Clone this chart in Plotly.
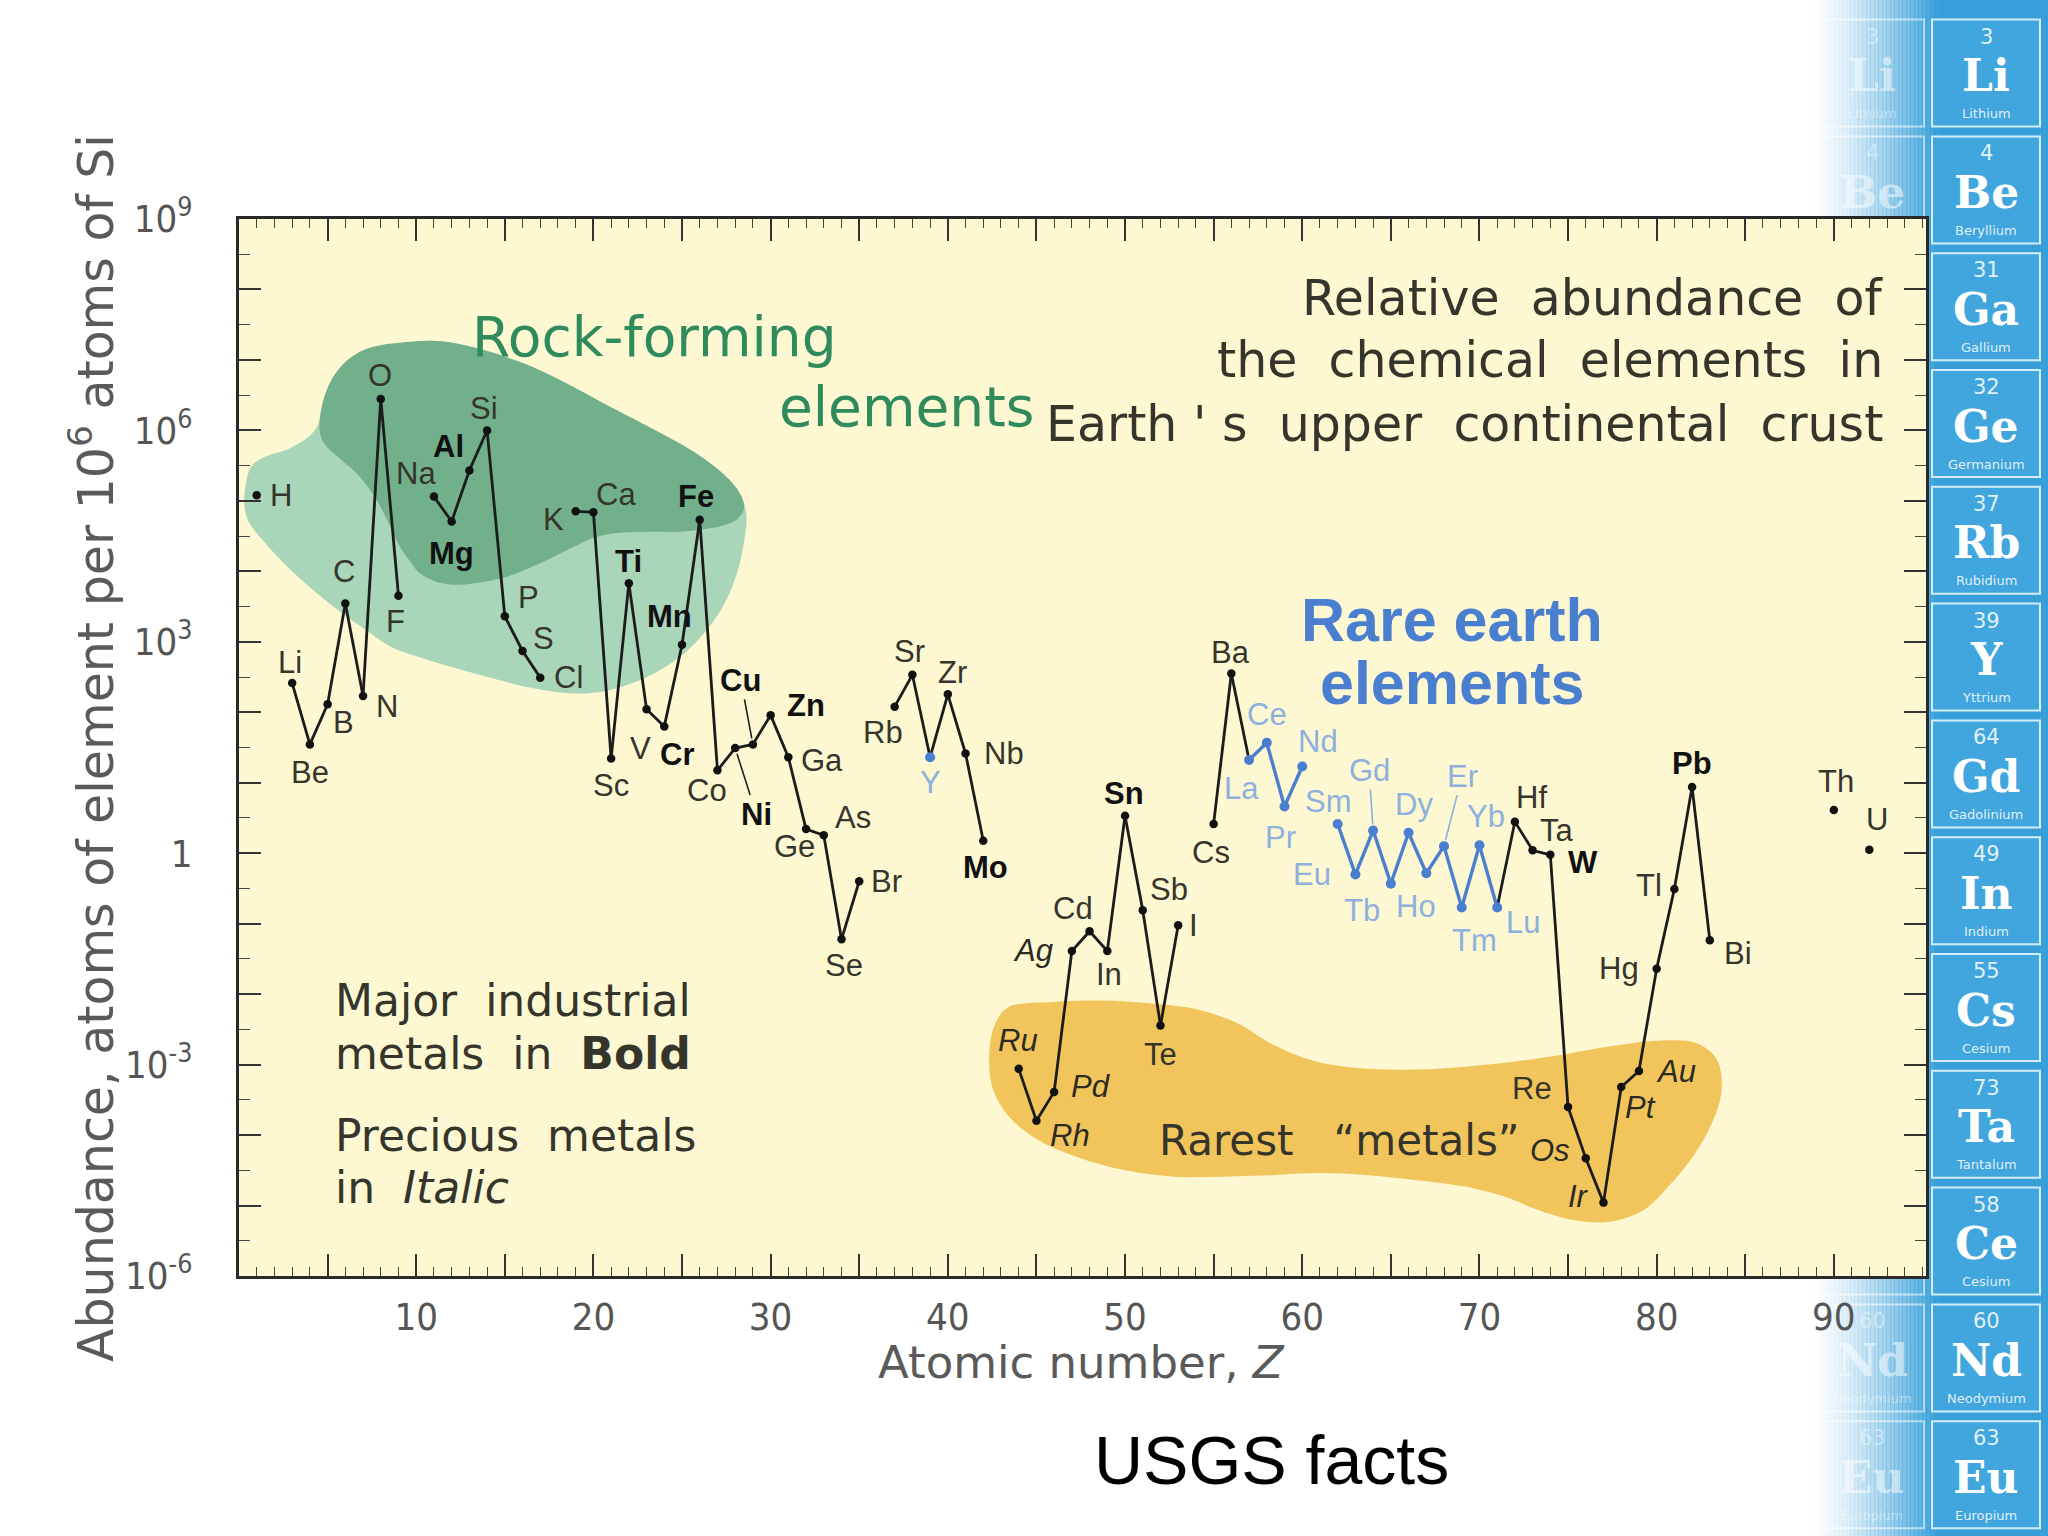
import math
import plotly.graph_objects as go

# ---------------- data ----------------
ATOMIC_NUMBER = [1, 3, 4, 5, 6, 7, 8, 9, 11, 12, 13, 14, 15, 16, 17, 19, 20, 21, 22, 23, 24, 25, 26,
                 27, 28, 29, 30, 31, 32, 33, 34, 35, 37, 38, 39, 40, 41, 42, 44, 45, 46, 47, 48, 49,
                 50, 51, 52, 53, 55, 56, 57, 58, 59, 60, 62, 63, 64, 65, 66, 67, 68, 69, 70, 71, 72,
                 73, 74, 75, 76, 77, 78, 79, 80, 81, 82, 83, 90, 92]
ELEMENT = ["H", "Li", "Be", "B", "C", "N", "O", "F", "Na", "Mg", "Al", "Si", "P", "S", "Cl", "K", "Ca",
           "Sc", "Ti", "V", "Cr", "Mn", "Fe", "Co", "Ni", "Cu", "Zn", "Ga", "Ge", "As", "Se", "Br",
           "Rb", "Sr", "Y", "Zr", "Nb", "Mo", "Ru", "Rh", "Pd", "Ag", "Cd", "In", "Sn", "Sb", "Te",
           "I", "Cs", "Ba", "La", "Ce", "Pr", "Nd", "Sm", "Eu", "Gd", "Tb", "Dy", "Ho", "Er", "Tm",
           "Yb", "Lu", "Hf", "Ta", "W", "Re", "Os", "Ir", "Pt", "Au", "Hg", "Tl", "Pb", "Bi", "Th", "U"]
ABUNDANCE = [1.2e5, 260, 35, 130, 3500, 170, 2.8e6, 4500, 1.15e5, 5.1e4, 2.7e5, 1.0e6, 2300, 740, 310,
             7.1e4, 6.9e4, 22, 6800, 110, 63, 910, 5.4e4, 15, 31, 35, 91, 23, 2.2, 1.8, 0.06, 0.4,
             120, 340, 23, 180, 26, 1.5, 8.7e-4, 1.6e-4, 4.1e-4, 0.041, 0.078, 0.041, 3.4, 0.155,
             0.0036, 0.095, 2.6, 355, 21, 37, 4.6, 17, 2.6, 0.5, 2.1, 0.37, 1.95, 0.52, 1.26, 0.17,
             1.3, 0.17, 2.8, 1.1, 0.95, 2.5e-4, 4.7e-5, 1.1e-5, 4.8e-4, 8.1e-4, 0.023, 0.31, 8.7,
             0.058, 4.1, 1.12]

BOLD_ELEMENTS = ["Mg", "Al", "Ti", "Cr", "Mn", "Fe", "Ni", "Cu", "Zn", "Mo", "Sn", "W", "Pb"]
ITALIC_ELEMENTS = ["Ru", "Rh", "Pd", "Ag", "Os", "Ir", "Pt", "Au"]
REE_ELEMENTS = ["Y", "La", "Ce", "Pr", "Nd", "Sm", "Eu", "Gd", "Tb", "Dy", "Ho", "Er", "Tm", "Yb", "Lu"]
LANTHANIDE_Z = (57, 71)

Y_TICK_EXP = list(range(-6, 10))
Y_LABELED_EXP = [-6, -3, 0, 3, 6, 9]
X_MAJOR_TICKS = list(range(5, 95, 5))
X_LABELED = [10, 20, 30, 40, 50, 60, 70, 80, 90]

TILE_NUMBERS = ["3", "4", "31", "32", "37", "39", "64", "49", "55", "73", "58", "60", "63"]
TILE_SYMBOLS = ["Li", "Be", "Ga", "Ge", "Rb", "Y", "Gd", "In", "Cs", "Ta", "Ce", "Nd", "Eu"]
TILE_NAMES = ["Lithium", "Beryllium", "Gallium", "Germanium", "Rubidium", "Yttrium", "Gadolinium",
              "Indium", "Cesium", "Tantalum", "Cesium", "Neodymium", "Europium"]

# decorative region outlines, (atomic number, log10 abundance)
LIGHT_BLOB_Z = [0.30, 0.70, 1.51, 2.72, 3.72, 4.40, 4.80, 5.70, 7.13, 9.34, 11.55, 15.97, 21.13,
                26.29, 28.13, 28.62, 28.52, 28.11, 27.31, 26.1, 24.68, 22.67, 20.65, 18.64, 16.62,
                14.61, 12.59, 10.58, 8.56, 7.15, 5.54, 3.93, 2.52, 1.31, 0.50]
LIGHT_BLOB_LOG = [5.02, 5.49, 5.63, 5.73, 5.87, 6.05, 6.45, 6.88, 7.13, 7.24, 7.26, 6.96, 6.31,
                  5.59, 5.16, 4.83, 4.45, 3.98, 3.50, 3.08, 2.75, 2.46, 2.30, 2.27, 2.34, 2.46,
                  2.60, 2.75, 2.93, 3.17, 3.46, 3.79, 4.12, 4.45, 4.73]
DARK_BLOB_Z = [4.55, 4.91, 5.80, 7.13, 9.34, 11.55, 15.97, 21.13, 26.29, 28.13, 28.50, 28.11, 27.31,
               26.3, 24.89, 23.27, 21.66, 20.05, 18.84, 17.63, 16.42, 15.21, 14.0, 12.39, 11.18,
               10.17, 9.57, 8.97, 8.36, 7.55, 6.60, 5.60, 4.85]
DARK_BLOB_LOG = [6.00, 6.55, 6.92, 7.15, 7.25, 7.26, 6.96, 6.31, 5.59, 5.16, 4.90, 4.74, 4.65, 4.60,
                 4.56, 4.56, 4.55, 4.48, 4.34, 4.19, 4.05, 3.93, 3.86, 3.81, 3.85, 3.98, 4.17, 4.40,
                 4.73, 5.10, 5.40, 5.62, 5.80]
ORANGE_BLOB_Z = [42.37, 42.77, 43.46, 45.92, 48.66, 51.39, 54.13, 56.32, 58.23, 60.42, 63.15, 66.44,
                 69.17, 71.91, 74.64, 77.38, 80.11, 82.30, 83.40, 83.67, 83.12, 82.03, 80.66, 79.29,
                 77.38, 75.19, 73.27, 71.36, 69.17, 66.44, 63.70, 60.97, 58.23, 55.50, 52.76, 50.02,
                 47.29, 45.10, 43.46, 42.50]
ORANGE_BLOB_LOG = [-2.74, -2.37, -2.18, -2.11, -2.09, -2.13, -2.22, -2.41, -2.70, -2.93, -3.05, -3.07,
                   -3.03, -2.96, -2.86, -2.74, -2.66, -2.70, -2.93, -3.36, -3.83, -4.31, -4.73, -5.06,
                   -5.23, -5.20, -5.06, -4.87, -4.73, -4.64, -4.57, -4.54, -4.57, -4.59, -4.59, -4.50,
                   -4.31, -4.07, -3.74, -3.31]

# ---------------- layout helpers (pixels of the 2048x1536 page) ----------------
FIG_W, FIG_H = 2048, 1536
PL, PR, PT, PB = 239, 1926, 219, 1276


def px(X):
    return (X - PL) / (PR - PL)


def py(Y):
    return (PB - Y) / (PB - PT)


# label offsets (dx right, dy down) in pixels
LABEL_OFFSET = {
    "H": (24, 0), "Li": (-2, -21), "Be": (0, 28), "B": (16, 18), "C": (-1, -32), "N": (24, 10),
    "O": (-1, -23), "F": (-3, 26), "Na": (-18, -23), "Mg": (0, 32), "Al": (-21, -24), "Si": (-3, -22),
    "P": (24, -19), "S": (21, -13), "Cl": (28, 0), "K": (-22, 8), "Ca": (23, -18), "Sc": (0, 27),
    "Ti": (0, -22), "V": (-6, 39), "Cr": (13, 28), "Mn": (-13, -28), "Fe": (-4, -23), "Co": (-10, 20),
    "Zn": (35, -10), "Ga": (34, 3), "Ge": (-12, 17), "As": (29, -18), "Se": (2, 26), "Br": (27, 0),
    "Rb": (-12, 26), "Sr": (-3, -23), "Y": (0, 25), "Zr": (5, -22), "Nb": (38, 0), "Mo": (2, 27),
    "Ru": (-1, -28), "Rh": (34, 15), "Pd": (37, -5), "Ag": (-39, 0), "Cd": (-17, -23), "In": (2, 24),
    "Sn": (-1, -22), "Sb": (26, -21), "Te": (0, 29), "I": (15, 0), "Cs": (-3, 29), "Ba": (-1, -21),
    "La": (-8, 28), "Ce": (0, -28), "Pr": (-4, 31), "Nd": (16, -25), "Sm": (-9, -22), "Eu": (-43, 0),
    "Tb": (-29, 27), "Dy": (5, -28), "Ho": (-10, 33), "Tm": (13, 33), "Yb": (7, -29), "Lu": (26, 15),
    "Hf": (17, -24), "Ta": (24, -20), "W": (33, 8), "Re": (-36, -19), "Os": (-36, -8),
    "Ir": (-25, -6), "Pt": (19, 20), "Au": (37, 0), "Hg": (-38, 0), "Tl": (-25, -4), "Pb": (0, -24),
    "Bi": (28, 13), "Th": (2, -29), "U": (8, -30),
}
LEADER_OFFSET = {"Ni": (21, 66), "Cu": (-12, -64), "Gd": (-4, -60), "Er": (18, -70)}

SANS = "DejaVu Sans, Liberation Sans, Arial, sans-serif"
ARIAL = "Liberation Sans, Arial, Helvetica, sans-serif"
NARROW = "Liberation Sans Narrow, DejaVu Sans Condensed, Arial Narrow, sans-serif"
TEXT_COL = "#35352b"
BLUE = "#4a7fcf"
LIGHT_BLUE = "#8db0dd"

fig = go.Figure()

# ---------------- regions ----------------
for zs, ls, col in [(LIGHT_BLOB_Z, LIGHT_BLOB_LOG, "#a9d5b9"),
                    (DARK_BLOB_Z, DARK_BLOB_LOG, "#71b08b"),
                    (ORANGE_BLOB_Z, ORANGE_BLOB_LOG, "#f2c55c")]:
    fig.add_trace(go.Scatter(
        x=zs + [zs[0]], y=[10 ** v for v in ls] + [10 ** ls[0]],
        mode="lines", fill="toself", fillcolor=col,
        line=dict(color=col, width=0, shape="spline", smoothing=1.0),
        hoverinfo="skip", showlegend=False))

# ---------------- lines ----------------
def is_lanth(z):
    return LANTHANIDE_Z[0] <= z <= LANTHANIDE_Z[1]


bx, by, rx, ry = [], [], [], []
for i in range(len(ATOMIC_NUMBER) - 1):
    z0, z1 = ATOMIC_NUMBER[i], ATOMIC_NUMBER[i + 1]
    if z1 - z0 != 1:
        continue
    if is_lanth(z0) and is_lanth(z1):
        rx += [z0, z1, None]
        ry += [ABUNDANCE[i], ABUNDANCE[i + 1], None]
    else:
        bx += [z0, z1, None]
        by += [ABUNDANCE[i], ABUNDANCE[i + 1], None]

fig.add_trace(go.Scatter(x=bx, y=by, mode="lines", line=dict(color="#1c1c1c", width=2.8),
                         hoverinfo="skip", showlegend=False))
fig.add_trace(go.Scatter(x=rx, y=ry, mode="lines", line=dict(color=BLUE, width=3.4),
                         hoverinfo="skip", showlegend=False))

blk = [i for i, s in enumerate(ELEMENT) if s not in REE_ELEMENTS]
ree = [i for i, s in enumerate(ELEMENT) if s in REE_ELEMENTS]
fig.add_trace(go.Scatter(x=[ATOMIC_NUMBER[i] for i in blk], y=[ABUNDANCE[i] for i in blk],
                         mode="markers", marker=dict(color="#111111", size=8.5),
                         text=[ELEMENT[i] for i in blk], showlegend=False))
fig.add_trace(go.Scatter(x=[ATOMIC_NUMBER[i] for i in ree], y=[ABUNDANCE[i] for i in ree],
                         mode="markers", marker=dict(color=BLUE, size=10),
                         text=[ELEMENT[i] for i in ree], showlegend=False))

# ---------------- element labels ----------------
annotations = []
for z, s, a in zip(ATOMIC_NUMBER, ELEMENT, ABUNDANCE):
    txt = s
    col = TEXT_COL
    if s in BOLD_ELEMENTS:
        txt = "<b>%s</b>" % s
        col = "#111111"
    elif s in ITALIC_ELEMENTS:
        txt = "<i>%s</i>" % s
        col = "#2b2b22"
    elif s in REE_ELEMENTS:
        col = LIGHT_BLUE
    font = dict(family=ARIAL, size=31, color=col)
    if s in LEADER_OFFSET:
        dx, dy = LEADER_OFFSET[s]
        annotations.append(dict(x=z, y=math.log10(a), xref="x", yref="y", text=txt, font=font,
                                showarrow=True, ax=dx, ay=dy, arrowhead=0, arrowwidth=1.6,
                                arrowcolor=("#222222" if s not in REE_ELEMENTS else LIGHT_BLUE),
                                standoff=6))
    else:
        dx, dy = LABEL_OFFSET[s]
        annotations.append(dict(x=z, y=math.log10(a), xref="x", yref="y", text=txt, font=font,
                                showarrow=False, xshift=dx, yshift=-dy,
                                xanchor="center", yanchor="middle"))


def note(text, X, Y, size, color=TEXT_COL, family=SANS, xanchor="left", angle=0):
    annotations.append(dict(x=px(X), y=py(Y), xref="paper", yref="paper", text=text,
                            showarrow=False, xanchor=xanchor, yanchor="middle", textangle=angle,
                            font=dict(family=family, size=size, color=color)))


NB = "\u00a0"
note("Relative" + NB + " abundance" + NB + " of", 1885, 298, 49, xanchor="right")
note("the" + NB + " chemical" + NB + " elements" + NB + " in", 1885, 361, 49, xanchor="right")
note("Earth" + NB + "'" + NB + "s" + NB + " upper" + NB + " continental" + NB + " crust", 1885, 424, 49,
     xanchor="right")
note("Rock-forming", 470, 337, 55, color="#2f8b5c")
note("elements", 1036, 407, 55, color="#2f8b5c", xanchor="right")
note("<b>Rare earth</b>", 1452, 620, 61, color=BLUE, family=ARIAL, xanchor="center")
note("<b>elements</b>", 1452, 683, 61, color=BLUE, family=ARIAL, xanchor="center")
note("Major" + NB + " industrial", 333, 1000, 44)
note("metals" + NB + " in" + NB + " <b>Bold</b>", 333, 1053, 44)
note("Precious" + NB + " metals", 333, 1135, 44)
note("in" + NB + " <i>Italic</i>", 333, 1187, 44)
note("Rarest" + NB + NB + " \u201cmetals\u201d", 1157, 1140, 42)
note("USGS facts", 1271, 1460, 68, color="#000000", family=ARIAL, xanchor="center")
note("Abundance, atoms of element per 10<sup>6</sup> atoms of Si", 92, 748, 49, color="#5a5a5a",
     family=SANS, xanchor="center", angle=-90)
note("Atomic number, <i>Z</i>", 1081, 1362, 45, color="#5a5a5a", family=SANS, xanchor="center")

# ---------------- periodic tiles on the right ----------------
shapes = []
X0G, X1G = 1808, 1936
step = 4
X = 1790
while X < FIG_W:
    t = min(1.0, max(0.0, (X - X0G) / (X1G - X0G)))
    alpha = 0.92 * t ** 1.4
    if alpha > 0.005:
        shapes.append(dict(type="rect", xref="paper", yref="paper", x0=px(X), x1=px(X + step + 0.5),
                           y0=py(FIG_H), y1=py(0), line=dict(width=0),
                           fillcolor="rgba(40,152,214,%.3f)" % alpha, layer="below"))
    X += step

TILE_TOP, TILE_STEP, TILE_H = 19.6, 116.8, 107
for i in range(len(TILE_SYMBOLS)):
    top = TILE_TOP + i * TILE_STEP
    shapes.append(dict(type="rect", xref="paper", yref="paper", x0=px(1820), x1=px(1924),
                       y0=py(top + TILE_H), y1=py(top), line=dict(color="rgba(255,255,255,0.55)", width=2),
                       fillcolor="rgba(0,0,0,0)", layer="below"))
    shapes.append(dict(type="rect", xref="paper", yref="paper", x0=px(1932), x1=px(2040),
                       y0=py(top + TILE_H), y1=py(top), line=dict(color="#d4edf9", width=2),
                       fillcolor="#41a6dd", layer="above"))
    for cx, op, faded in [(1986, 1.0, False), (1872, 0.5, True)]:
        items = [(TILE_NUMBERS[i], top + 17, 21, SANS, False),
                 (TILE_SYMBOLS[i], top + 56, 44, "DejaVu Serif, Liberation Serif, serif", True),
                 (TILE_NAMES[i], top + 94, 13, SANS, False)]
        for text, Y, size, fam, bold in items:
            if faded and PT - 8 < Y < PB + 8:
                continue
            annotations.append(dict(x=px(cx), y=py(Y), xref="paper", yref="paper",
                                    text=("<b>%s</b>" % text if bold else text), showarrow=False,
                                    xanchor="center", yanchor="middle",
                                    font=dict(family=fam, size=size,
                                              color="rgba(255,255,255,%.2f)" % (op * (0.85 if not bold else 1.0)))))

# cream plot background covering the faded tiles
shapes.append(dict(type="rect", xref="paper", yref="paper", x0=0, x1=1, y0=0, y1=1,
                   line=dict(width=0), fillcolor="#fdf8d2", layer="below"))

y_ticktext = []
for e in Y_TICK_EXP:
    if e in Y_LABELED_EXP:
        y_ticktext.append("1" if e == 0 else "10<sup>%d</sup>" % e)
    else:
        y_ticktext.append(" ")

fig.update_layout(
    width=FIG_W, height=FIG_H,
    margin=dict(l=PL, r=FIG_W - PR, t=PT, b=FIG_H - PB),
    paper_bgcolor="#ffffff", plot_bgcolor="rgba(0,0,0,0)",
    showlegend=False,
    shapes=shapes, annotations=annotations,
    xaxis=dict(range=[0, 95.2], showgrid=False, zeroline=False,
               tickmode="array", tickvals=X_MAJOR_TICKS,
               ticktext=[str(v) if v in X_LABELED else " " for v in X_MAJOR_TICKS],
               ticks="inside", ticklen=22, tickwidth=2.2, tickcolor="#333333",
               minor=dict(dtick=1, tick0=0, ticks="inside", ticklen=9, tickwidth=1.4, tickcolor="#444444"),
               showline=True, linecolor="#2a2a2a", linewidth=3, mirror="allticks",
               tickfont=dict(family=NARROW, size=38, color="#555555"), ticklabelstandoff=5),
    yaxis=dict(type="log", range=[-6, 9], showgrid=False, zeroline=False,
               tickmode="array", tickvals=[10 ** e for e in Y_TICK_EXP], ticktext=y_ticktext,
               ticks="inside", ticklen=22, tickwidth=2.2, tickcolor="#333333",
               minor=dict(tickvals=[10 ** (e + 0.5) for e in Y_TICK_EXP[:-1]], ticks="inside",
                          ticklen=11, tickwidth=1.4, tickcolor="#444444"),
               showline=True, linecolor="#2a2a2a", linewidth=3, mirror="allticks",
               tickfont=dict(family=NARROW, size=38, color="#555555"), ticklabelstandoff=36),
)

fig.write_html("out.html")
